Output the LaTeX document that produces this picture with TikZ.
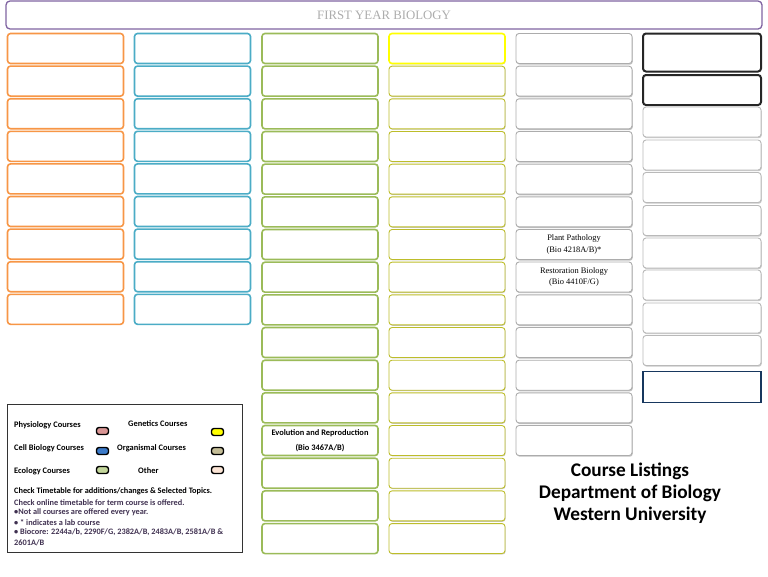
\documentclass[tikz,border=0pt]{standalone}
\usepackage{fontspec}
\setmainfont{Liberation Serif}
\newfontfamily\calibri{Carlito}
\usetikzlibrary{shadows}
\definecolor{headpurple}{HTML}{8064A2}
\definecolor{physorange}{HTML}{F79646}
\definecolor{cellblue}{HTML}{4BACC6}
\definecolor{ecogreen}{HTML}{9BBB59}
\definecolor{genyellow}{HTML}{FFFF00}
\definecolor{genolive}{HTML}{BDBD2A}
\definecolor{navy}{HTML}{17375E}
\definecolor{notepurple}{HTML}{403151}
\definecolor{swpink}{HTML}{D99594}
\definecolor{swblue}{HTML}{3C7AC8}
\definecolor{swtan}{HTML}{C4BD97}
\definecolor{swgreen}{HTML}{C3D69B}
\definecolor{swpeach}{HTML}{FBE4D5}
\tikzset{
  course/.style={rounded corners=3pt, fill=white, minimum width=116pt, minimum height=30pt,
    inner sep=1pt, align=center},
  physbox/.style={course, draw=physorange, line width=1.6pt},
  cellbox/.style={course, draw=cellblue, line width=1.6pt},
  ecobox/.style={course, draw=ecogreen, line width=1.6pt, font=\calibri\bfseries\fontsize{8.4}{15}\selectfont},
  genbox/.style={course, draw=genolive, line width=0.9pt, drop shadow={shadow xshift=0.6pt, shadow yshift=-0.9pt, fill=black!35, opacity=0.6}},
  orgbox/.style={course, draw=gray!65, line width=0.9pt, font=\fontsize{8.4}{11.5}\selectfont,
    drop shadow={shadow xshift=0.8pt, shadow yshift=-1.2pt, fill=black!40, opacity=0.6}},
  otherbox/.style={course, minimum width=118pt, draw=gray!55, line width=0.9pt,
    drop shadow={shadow xshift=0.8pt, shadow yshift=-1.2pt, fill=black!35, opacity=0.6}},
  swatch/.style={draw=black, line width=1.4pt, rounded corners=2.5pt, minimum width=12pt,
    minimum height=7pt, inner sep=0pt},
  legtext/.style={anchor=west, inner sep=0pt, font=\calibri\bfseries\fontsize{8.4}{9}\selectfont},
  notetext/.style={legtext, font=\calibri\bfseries\fontsize{8.3}{9}\selectfont, text=notepurple},
}
\begin{document}
\begin{tikzpicture}[x=1pt,y=-1pt]
  \useasboundingbox (0,0) rectangle (768,576);
  \node[draw=headpurple, line width=1.3pt, rounded corners=4pt, minimum width=756pt, minimum height=28pt,
    font=\fontsize{12.8}{14}\selectfont, text=gray!65] (first) at (384,15) {FIRST YEAR BIOLOGY};
  % physiology and cell biology columns
  \foreach \i in {1,...,9}{
    \node[physbox] (phys\i) at (65.5,{48.5+32.6*(\i-1)}) {};
    \node[cellbox] (cell\i) at (192.5,{48.5+32.6*(\i-1)}) {};
  }
  % ecology and genetics columns
  \foreach \i in {1,...,12,14,15,16}
    \node[ecobox] (eco\i) at (320,{48.5+32.67*(\i-1)}) {};
  \node[ecobox] (eco13) at (320,440.5) {Evolution and Reproduction\\(Bio 3467A/B)};
  \node[genbox, draw=genyellow, line width=1.6pt] (gen1) at (447,48.5) {};
  \foreach \i in {2,...,16}
    \node[genbox] (gen\i) at (447,{48.5+32.67*(\i-1)}) {};
  % organismal column
  \foreach \i in {1,...,6,9,10,11,12,13}
    \node[orgbox] (org\i) at (574,{48.5+32.67*(\i-1)}) {};
  \node[orgbox] (org7) at (574,244.5) {Plant Pathology\\(Bio 4218A/B)*};
  \node[orgbox] (org8) at (574,277) {Restoration Biology\\(Bio 4410F/G)};
  % other column
  \node[course, minimum width=118pt, minimum height=38pt, draw=black!85, line width=2pt] (oth1) at (702,52.5) {};
  \node[course, minimum width=118pt, draw=black!85, line width=2pt] (oth2) at (702,90) {};
  \foreach \i/\y in {3/122,4/155,5/187.5,6/220.5,7/253,8/285,9/318,10/350.5}
    \node[otherbox] (oth\i) at (702,\y) {};
  \node[draw=navy, line width=1.6pt, fill=white, minimum width=118pt, minimum height=31pt] (oth11) at (702,387) {};
  % legend
  \node[draw=black!80, line width=0.8pt, minimum width=235pt, minimum height=148pt, inner sep=0pt] (legend) at (125,478.5) {};
  \node[legtext] (lphys) at (14,425) {Physiology Courses};
  \node[legtext] (lgen) at (128,424) {Genetics Courses};
  \node[legtext] (lcell) at (14,448) {Cell Biology Courses};
  \node[legtext] (lorg) at (117,448) {Organismal Courses};
  \node[legtext] (leco) at (14,471) {Ecology Courses};
  \node[legtext] (loth) at (138,471) {Other};
  \node[swatch, fill=swpink] (sphys) at (102.5,431) {};
  \node[swatch, fill=genyellow] (sgen) at (217.5,432) {};
  \node[swatch, fill=swblue] (scell) at (102.5,451) {};
  \node[swatch, fill=swtan] (sorg) at (217.5,451) {};
  \node[swatch, fill=swgreen] (seco) at (102.5,470) {};
  \node[swatch, fill=swpeach] (soth) at (217.5,470) {};
  \node[notetext, text=black] (n1) at (14,491) {Check Timetable for additions/changes \& Selected Topics.};
  \node[notetext] (n2) at (14,502.5) {Check online timetable for term course is offered.};
  \node[notetext] (n3) at (14,512.5) {\textbullet Not all courses are offered every year.};
  \node[notetext] (n4) at (14,522.5) {\textbullet\ * indicates a lab course};
  \node[notetext] (n5) at (14,532.5) {\textbullet\ Biocore: 2244a/b, 2290F/G, 2382A/B, 2483A/B, 2581A/B \&};
  \node[notetext] (n6) at (14,543) {2601A/B};
  % title
  \node[align=center, font=\calibri\bfseries\fontsize{19.3}{22}\selectfont] (title) at (630,493)
    {Course Listings\\Department of Biology\\Western University};
\end{tikzpicture}
\end{document}
